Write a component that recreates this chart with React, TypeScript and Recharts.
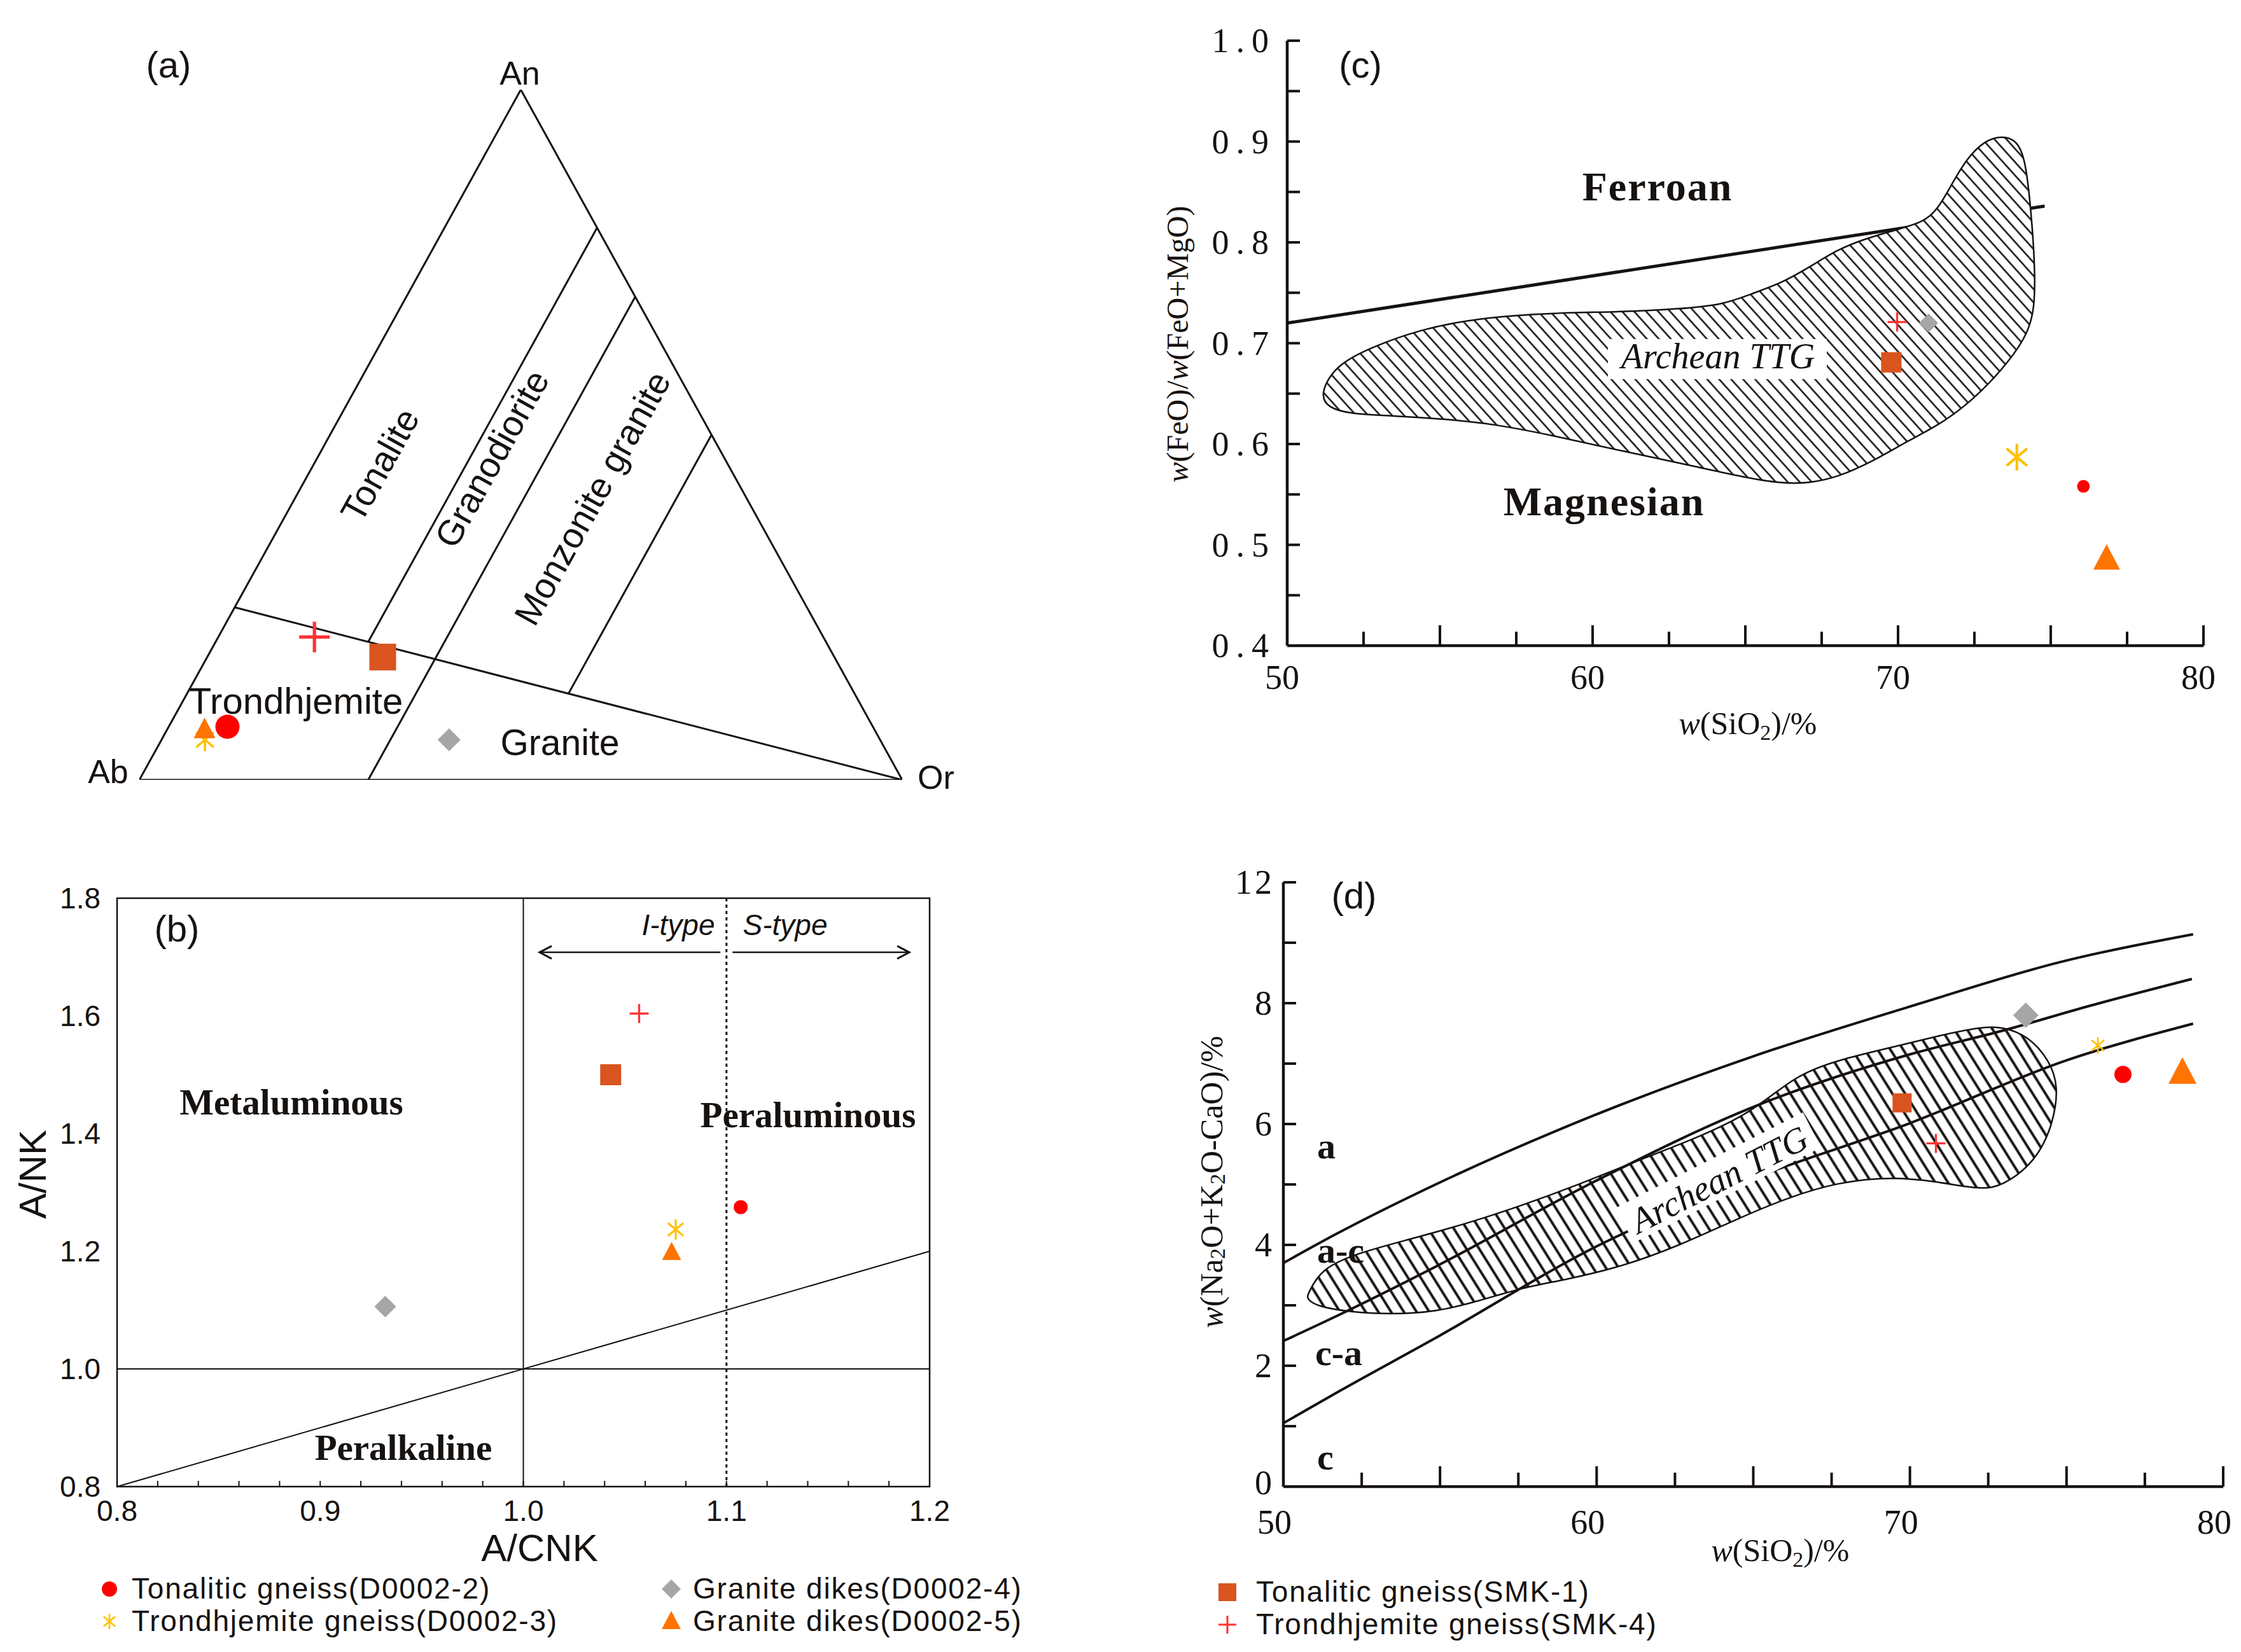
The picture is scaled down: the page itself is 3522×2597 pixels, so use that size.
import React from 'react';
import { ScatterChart, Scatter, XAxis, YAxis, ReferenceLine, ReferenceArea } from 'recharts';

const SANS = "'Liberation Sans', Arial, sans-serif";
const SERIF = "'Liberation Serif', 'Times New Roman', serif";
const INK = '#161210';

// sample symbols
const SAMPLE_STYLE: Record<string, { kind: string; color: string }> = {
  'D0002-2': { kind: 'circle', color: '#ff0000' },
  'D0002-3': { kind: 'asterisk', color: '#ffc000' },
  'D0002-4': { kind: 'diamond', color: '#a6a6a6' },
  'D0002-5': { kind: 'triangle', color: '#ff7300' },
  'SMK-1': { kind: 'square', color: '#d9541e' },
  'SMK-4': { kind: 'plus', color: '#ff3333' },
};

const legendB = [
  { id: 'D0002-2', label: 'Tonalitic gneiss(D0002-2)' },
  { id: 'D0002-3', label: 'Trondhjemite gneiss(D0002-3)' },
  { id: 'D0002-4', label: 'Granite dikes(D0002-4)' },
  { id: 'D0002-5', label: 'Granite dikes(D0002-5)' },
];
const legendD = [
  { id: 'SMK-1', label: 'Tonalitic gneiss(SMK-1)' },
  { id: 'SMK-4', label: 'Trondhjemite gneiss(SMK-4)' },
];

// (a) An-Ab-Or, %
const anAbOr = [
  { id: 'SMK-4', an: 20.7, ab: 66.7, or: 12.6 },
  { id: 'SMK-1', an: 17.8, ab: 59.2, or: 23.0 },
  { id: 'D0002-3', an: 5.8, ab: 88.5, or: 5.7 },
  { id: 'D0002-5', an: 7.3, ab: 87.8, or: 4.9 },
  { id: 'D0002-2', an: 7.7, ab: 84.6, or: 7.7 },
  { id: 'D0002-4', an: 5.8, ab: 56.5, or: 37.7 },
];
const triangleEdges = [
  [[0, 100, 0], [0, 0, 100]],
  [[0, 0, 100], [100, 0, 0]],
  [[100, 0, 0], [0, 100, 0]],
];
const fieldLines = [
  [[25, 75, 0], [0, 0, 100]],
  [[80, 0, 20], [20, 60, 20]],
  [[70, 0, 30], [0, 70, 30]],
  [[50, 0, 50], [12.5, 37.5, 50]],
];

// (b) A/CNK vs A/NK
const acnkAnk = [
  { id: 'D0002-4', acnk: 0.932, ank: 1.106 },
  { id: 'D0002-5', acnk: 1.073, ank: 1.198 },
  { id: 'D0002-3', acnk: 1.075, ank: 1.237 },
  { id: 'D0002-2', acnk: 1.107, ank: 1.275 },
  { id: 'SMK-1', acnk: 1.043, ank: 1.5 },
  { id: 'SMK-4', acnk: 1.057, ank: 1.604 },
];
const bXLabels = [0.8, 0.9, 1.0, 1.1, 1.2];
const bYLabels = [0.8, 1.0, 1.2, 1.4, 1.6, 1.8];

// (c) SiO2 vs FeO/(FeO+MgO)
const sio2Fe = [
  { id: 'SMK-4', sio2: 69.97, fe: 0.721 },
  { id: 'D0002-4', sio2: 71.0, fe: 0.72 },
  { id: 'SMK-1', sio2: 69.78, fe: 0.681 },
  { id: 'D0002-3', sio2: 73.89, fe: 0.587 },
  { id: 'D0002-2', sio2: 76.07, fe: 0.558 },
  { id: 'D0002-5', sio2: 76.83, fe: 0.486 },
];
const ferroanLine = [[50, 0.72], [74.8, 0.836]];
const ttgFe = [
  [51.06, 0.649], [51.57, 0.678], [52.75, 0.696], [54.39, 0.714], [56.27, 0.725], [58.62, 0.73],
  [60.97, 0.731], [62.85, 0.734], [64.26, 0.738], [65.2, 0.749], [66.14, 0.759], [67.08, 0.775],
  [68.02, 0.793], [68.96, 0.804], [69.9, 0.812], [70.84, 0.82], [71.31, 0.833], [71.78, 0.859],
  [72.25, 0.883], [72.83, 0.901], [73.42, 0.906], [73.89, 0.901], [74.17, 0.883], [74.36, 0.83],
  [74.48, 0.778], [74.48, 0.735], [74.24, 0.709], [73.66, 0.683], [72.72, 0.651], [71.54, 0.622],
  [70.37, 0.604], [69.19, 0.583], [68.02, 0.567], [67.08, 0.561], [66.14, 0.561], [64.96, 0.567],
  [63.32, 0.578], [60.97, 0.593], [58.62, 0.609], [56.74, 0.62], [55.1, 0.625], [53.45, 0.628],
  [52.04, 0.63], [51.34, 0.636],
];
const cXLabels = [50, 60, 70, 80];

// (d) SiO2 vs Na2O+K2O-CaO
const sio2Mali = [
  { id: 'D0002-4', sio2: 73.7, mali: 7.8 },
  { id: 'D0002-3', sio2: 76.0, mali: 7.3 },
  { id: 'D0002-2', sio2: 76.8, mali: 6.82 },
  { id: 'D0002-5', sio2: 78.7, mali: 6.85 },
  { id: 'SMK-1', sio2: 69.75, mali: 6.35 },
  { id: 'SMK-4', sio2: 70.83, mali: 5.68 },
];
const maliUpper = [[50, 3.7], [51.65, 4.17], [54.86, 5.0], [59.9, 6.14], [64.94, 7.11], [69.98, 7.94], [74.8, 8.68], [79.04, 9.14]];
const maliMiddle = [[50, 2.41], [51.65, 2.81], [54.86, 3.64], [59.9, 5.04], [64.94, 6.27], [69.98, 7.15], [73.0, 7.55], [75.7, 7.95], [79.0, 8.4]];
const maliLower = [[50, 1.05], [51.65, 1.54], [54.86, 2.46], [59.9, 3.95], [64.94, 5.09], [69.98, 6.01], [75.03, 7.06], [79.04, 7.66]];
const ttgMali = [
  [50.8, 3.2], [51.19, 3.6], [52.34, 3.86], [53.94, 4.08], [55.78, 4.34], [57.61, 4.65], [59.44, 5.0],
  [61.28, 5.39], [63.11, 5.75], [64.94, 6.18], [66.32, 6.8], [67.69, 7.06], [69.53, 7.28], [70.9, 7.46],
  [72.28, 7.61], [72.96, 7.61], [73.77, 7.46], [74.45, 7.06], [74.75, 6.62], [74.57, 6.01], [74.11, 5.48],
  [73.42, 5.13], [72.62, 4.91], [71.82, 4.96], [70.9, 5.04], [69.53, 5.13], [67.69, 5.04], [66.09, 4.78],
  [64.48, 4.43], [62.65, 3.99], [60.82, 3.64], [58.98, 3.42], [57.61, 3.29], [56.23, 3.07], [54.86, 2.89],
  [53.48, 2.85], [52.11, 2.89], [51.08, 2.98], [50.73, 3.11],
];
const dYLabels = [0, 2, 4, 6, 8, 10];
const dYLabelText = ['0', '2', '4', '6', '8', '12'];

// marker sizes per panel
const SIZE_A: Record<string, number> = { circle: 38, square: 42, plus: 48, triangle: 34, asterisk: 36, diamond: 36 };
const SIZE_B: Record<string, number> = { circle: 22, square: 33, plus: 30, triangle: 30, asterisk: 32, diamond: 34 };
const SIZE_C: Record<string, number> = { circle: 20, square: 32, plus: 30, triangle: 42, asterisk: 42, diamond: 30 };
const SIZE_D: Record<string, number> = { circle: 27, square: 30, plus: 30, triangle: 44, asterisk: 26, diamond: 40 };

const range = (a: number, b: number, s: number) =>
  Array.from({ length: Math.round((b - a) / s) + 1 }, (_, i) => Number((a + i * s).toFixed(4)));
const has = (arr: number[], v: number) => arr.findIndex((a) => Math.abs(a - v) < 1e-6);
const xy = (pts: number[][]) => pts.map(([x, y]) => ({ x, y }));
const tern = ([an, , or]: number[]) => ({ x: (or + an / 2) / 100, y: an / 100 });

function Marker({ kind, color, cx, cy, s }: any) {
  const h = s / 2;
  const sw = Math.max(3, s * 0.11);
  switch (kind) {
    case 'circle':
      return <circle cx={cx} cy={cy} r={h} fill={color} />;
    case 'square':
      return <rect x={cx - h} y={cy - h} width={s} height={s} fill={color} />;
    case 'diamond':
      return <polygon points={`${cx},${cy - h} ${cx + h},${cy} ${cx},${cy + h} ${cx - h},${cy}`} fill={color} />;
    case 'triangle':
      return <polygon points={`${cx},${cy - s * 0.55} ${cx + h},${cy + s * 0.4} ${cx - h},${cy + s * 0.4}`} fill={color} />;
    case 'plus':
      return (
        <g stroke={color} strokeWidth={sw}>
          <line x1={cx - h} x2={cx + h} y1={cy} y2={cy} />
          <line x1={cx} x2={cx} y1={cy - h} y2={cy + h} />
        </g>
      );
    default: {
      const c = h * Math.cos(0.7);
      const d = h * Math.sin(0.7);
      return (
        <g stroke={color} strokeWidth={sw * 0.9}>
          <line x1={cx} x2={cx} y1={cy - h} y2={cy + h} />
          <line x1={cx - c} x2={cx + c} y1={cy - d} y2={cy + d} />
          <line x1={cx - c} x2={cx + c} y1={cy + d} y2={cy - d} />
        </g>
      );
    }
  }
}

function samples(prefix: string, pts: { id: string; x: number; y: number }[], sizes: Record<string, number>) {
  return pts.map((p) => {
    const st = SAMPLE_STYLE[p.id];
    return (
      <Scatter
        key={`${prefix}-${p.id}`}
        data={[p]}
        isAnimationActive={false}
        shape={(q: any) => <Marker kind={st.kind} color={st.color} cx={q.cx} cy={q.cy} s={sizes[st.kind]} />}
      />
    );
  });
}

function outline(key: string, pts: { x: number; y: number }[], width: number, opt: { fill?: string; curve?: any } = {}) {
  return (
    <Scatter
      key={key}
      data={pts}
      isAnimationActive={false}
      shape={() => <g />}
      line={{ stroke: INK, strokeWidth: width, fill: opt.fill ?? 'none' }}
      lineType="joint"
      lineJointType={opt.curve ?? 'linear'}
    />
  );
}

function axisTick(o: {
  side: 'bottom' | 'left';
  len: (v: number) => number;
  label: (v: number) => string | null;
  offset: number;
  dx?: number;
  dy?: (v: number) => number;
  font: string;
  size: number;
  spacing?: number;
  stroke: number;
}) {
  return (p: any) => {
    const v = Number(p.payload.value);
    const L = o.len(v);
    const lab = o.label(v);
    if (o.side === 'bottom') {
      return (
        <g>
          {L > 0 && <line x1={p.x} x2={p.x} y1={p.y} y2={p.y - L} stroke={INK} strokeWidth={o.stroke} />}
          {lab !== null && (
            <text x={p.x + (o.dx ?? 0)} y={p.y + o.offset} textAnchor="middle" fontFamily={o.font} fontSize={o.size} letterSpacing={o.spacing ?? 0} fill={INK}>
              {lab}
            </text>
          )}
        </g>
      );
    }
    return (
      <g>
        {L > 0 && <line x1={p.x} x2={p.x + L} y1={p.y} y2={p.y} stroke={INK} strokeWidth={o.stroke} />}
        {lab !== null && (
          <text x={p.x - o.offset} y={p.y + (o.dy ? o.dy(v) : 0)} textAnchor="end" dominantBaseline="central" fontFamily={o.font} fontSize={o.size} letterSpacing={o.spacing ?? 0} fill={INK}>
            {lab}
          </text>
        )}
      </g>
    );
  };
}

function PanelA() {
  const pts = anAbOr.map((d) => ({ id: d.id, ...tern([d.an, d.ab, d.or]) }));
  return (
    <ScatterChart width={1700} height={1300} margin={{ top: 141, right: 282, bottom: 74, left: 219 }}>
      <XAxis type="number" dataKey="x" domain={[0, 1]} allowDataOverflow hide />
      <YAxis type="number" dataKey="y" domain={[0, 1]} allowDataOverflow hide />
      {[...triangleEdges, ...fieldLines].map((seg, i) => outline(`a-line-${i}`, seg.map(tern), 3))}
      {samples('a', pts, SIZE_A)}
    </ScatterChart>
  );
}

function PanelB() {
  const pts = acnkAnk.map((d) => ({ id: d.id, x: d.acnk, y: d.ank }));
  const arrowY = 1.708;
  return (
    <ScatterChart width={1760} height={1150} margin={{ top: 112, right: 299, bottom: 13, left: 4 }}>
      <XAxis
        type="number" dataKey="x" domain={[0.8, 1.2]} allowDataOverflow height={100}
        ticks={range(0.8, 1.2, 0.02)} interval={0} axisLine={false} tickLine={false} tickSize={0} tickMargin={0}
        tick={axisTick({ side: 'bottom', len: () => 9, label: (v) => (has(bXLabels, v) >= 0 ? v.toFixed(1) : null), offset: 54, font: SANS, size: 46, stroke: 2 })}
      />
      <YAxis
        type="number" dataKey="y" domain={[0.8, 1.8]} allowDataOverflow width={180}
        ticks={bYLabels} interval={0} axisLine={false} tickLine={false} tickSize={0} tickMargin={0}
        tick={axisTick({ side: 'left', len: () => 0, label: (v) => v.toFixed(1), offset: 26, font: SANS, size: 46, stroke: 2 })}
      />
      <ReferenceArea x1={0.8} x2={1.2} y1={0.8} y2={1.8} fill="none" stroke={INK} strokeWidth={2.5} ifOverflow="visible" />
      <ReferenceLine x={1.0} stroke={INK} strokeWidth={2} ifOverflow="visible" />
      <ReferenceLine y={1.0} stroke={INK} strokeWidth={2} ifOverflow="visible" />
      <ReferenceLine segment={[{ x: 0.8, y: 0.8 }, { x: 1.2, y: 1.2 }]} stroke={INK} strokeWidth={2} ifOverflow="visible" />
      <ReferenceLine x={1.1} stroke={INK} strokeWidth={3} strokeDasharray="5 5" ifOverflow="visible" />
      <ReferenceLine segment={[{ x: 1.008, y: arrowY }, { x: 1.097, y: arrowY }]} stroke={INK} strokeWidth={2.5} markerStart="url(#arrowHead)" ifOverflow="visible" />
      <ReferenceLine segment={[{ x: 1.103, y: arrowY }, { x: 1.19, y: arrowY }]} stroke={INK} strokeWidth={2.5} markerEnd="url(#arrowHead)" ifOverflow="visible" />
      {samples('b', pts, SIZE_B)}
    </ScatterChart>
  );
}

function PanelC() {
  const pts = sio2Fe.map((d) => ({ id: d.id, x: d.sio2, y: d.fe }));
  return (
    <ScatterChart width={1762} height={1300} margin={{ top: 64, right: 59, bottom: 85, left: 63 }}>
      <XAxis
        type="number" dataKey="x" domain={[50, 80]} allowDataOverflow height={200}
        ticks={range(50, 80, 2.5)} interval={0} axisLine={{ stroke: INK, strokeWidth: 4.5 }} tickLine={false} tickSize={0} tickMargin={0}
        tick={axisTick({ side: 'bottom', len: (v) => (Math.abs(v % 5) < 1e-6 ? 32 : 22), label: (v) => (has(cXLabels, v) >= 0 ? String(v) : null), offset: 68, dx: -8, font: SERIF, size: 54, stroke: 4 })}
      />
      <YAxis
        type="number" dataKey="y" domain={[0.4, 1.0]} allowDataOverflow width={200}
        ticks={range(0.4, 1.0, 0.05)} interval={0} axisLine={{ stroke: INK, strokeWidth: 4.5 }} tickLine={false} tickSize={0} tickMargin={0}
        tick={axisTick({ side: 'left', len: () => 20, label: (v) => (has(range(0.4, 1.0, 0.1), v) >= 0 ? v.toFixed(1) : null), offset: 18, font: SERIF, size: 54, spacing: 11, stroke: 4 })}
      />
      {outline('c-ferroan', xy(ferroanLine), 5)}
      {outline('c-ttg', xy(ttgFe), 2.5, { fill: 'url(#hatchC)', curve: 'basisClosed' })}
      {samples('c', pts, SIZE_C)}
    </ScatterChart>
  );
}

function PanelD() {
  const pts = sio2Mali.map((d) => ({ id: d.id, x: d.sio2, y: d.mali }));
  return (
    <ScatterChart width={1762} height={1150} margin={{ top: 87, right: 28, bottom: 13, left: 57 }}>
      <XAxis
        type="number" dataKey="x" domain={[50, 80]} allowDataOverflow height={100}
        ticks={range(50, 80, 2.5)} interval={0} axisLine={{ stroke: INK, strokeWidth: 4.5 }} tickLine={false} tickSize={0} tickMargin={0}
        tick={axisTick({ side: 'bottom', len: (v) => (Math.abs(v % 5) < 1e-6 ? 32 : 22), label: (v) => (has(cXLabels, v) >= 0 ? String(v) : null), offset: 74, dx: -14, font: SERIF, size: 54, stroke: 4 })}
      />
      <YAxis
        type="number" dataKey="y" domain={[0, 10]} allowDataOverflow width={200}
        ticks={range(0, 10, 1)} interval={0} axisLine={{ stroke: INK, strokeWidth: 4.5 }} tickLine={false} tickSize={0} tickMargin={0}
        tick={axisTick({ side: 'left', len: () => 20, label: (v) => { const i = has(dYLabels, v); return i >= 0 ? dYLabelText[i] : null; }, offset: 14, dy: (v) => (v === 0 ? -6 : 0), font: SERIF, size: 54, spacing: 4, stroke: 4 })}
      />
      {outline('d-ttg', xy(ttgMali), 2.5, { fill: 'url(#hatchD)', curve: 'basisClosed' })}
      {outline('d-upper', xy(maliUpper), 4, { curve: 'monotoneX' })}
      {outline('d-middle', xy(maliMiddle), 4, { curve: 'monotoneX' })}
      {outline('d-lower', xy(maliLower), 4, { curve: 'monotoneX' })}
      {samples('d', pts, SIZE_D)}
    </ScatterChart>
  );
}

function Txt({ x, y, size, family = SANS, weight, italic, anchor = 'middle', rotate, spacing, children }: any) {
  const t = (
    <text
      x={rotate !== undefined ? 0 : x}
      y={rotate !== undefined ? 0 : y}
      fontSize={size}
      fontFamily={family}
      fontWeight={weight}
      fontStyle={italic ? 'italic' : undefined}
      textAnchor={anchor}
      dominantBaseline={rotate !== undefined ? 'central' : undefined}
      letterSpacing={spacing}
      fill={INK}
    >
      {children}
    </text>
  );
  if (rotate === undefined) return t;
  return <g transform={`translate(${x},${y}) rotate(${rotate})`}>{t}</g>;
}

function Legend({ items, x, textX, rows, size }: any) {
  return (
    <g>
      {items.map((it: any, i: number) => {
        const st = SAMPLE_STYLE[it.id];
        return (
          <g key={it.id}>
            <Marker kind={st.kind} color={st.color} cx={x} cy={rows[i] - 15} s={size} />
            <text x={textX} y={rows[i]} fontFamily={SANS} fontSize={46} letterSpacing={1.8} fill={INK}>{it.label}</text>
          </g>
        );
      })}
    </g>
  );
}

function Overlay() {
  const sub = (s: string) => <tspan dy={9} fontSize={34}>{s}</tspan>;
  const up = (s: string) => <tspan dy={-9}>{s}</tspan>;
  return (
    <svg width={3522} height={2597} style={{ position: 'absolute', left: 0, top: 0, pointerEvents: 'none' }}>
      <defs>
        <pattern id="hatchC" patternUnits="userSpaceOnUse" width={14} height={14} patternTransform="rotate(-42)">
          <rect width={14} height={14} fill="#fff" />
          <line x1={7} x2={7} y1={0} y2={14} stroke={INK} strokeWidth={2.6} />
        </pattern>
        <pattern id="hatchD" patternUnits="userSpaceOnUse" width={17} height={17} patternTransform="rotate(-32)">
          <rect width={17} height={17} fill="#fff" />
          <line x1={8.5} x2={8.5} y1={0} y2={17} stroke={INK} strokeWidth={4} />
        </pattern>
        <marker id="arrowHead" markerUnits="userSpaceOnUse" markerWidth={30} markerHeight={30} refX={22} refY={12} orient="auto-start-reverse">
          <path d="M3,2 L22,12 L3,22" fill="none" stroke={INK} strokeWidth={3} />
        </marker>
      </defs>

      {/* (a) */}
      <Txt x={265} y={122} size={58}>(a)</Txt>
      <Txt x={817} y={133} size={52}>An</Txt>
      <Txt x={170} y={1231} size={52}>Ab</Txt>
      <Txt x={1471} y={1240} size={52}>Or</Txt>
      <Txt x={465} y={1122} size={58}>Trondhjemite</Txt>
      <Txt x={880} y={1187} size={57}>Granite</Txt>
      <Txt x={597} y={731} size={56} rotate={-61}>Tonalite</Txt>
      <Txt x={773} y={721} size={56} rotate={-61}>Granodiorite</Txt>
      <Txt x={931} y={783} size={56} rotate={-61}>Monzonite granite</Txt>

      {/* (b) */}
      <Txt x={278} y={1480} size={58}>(b)</Txt>
      <Txt x={1066} y={1470} size={46} italic>I-type</Txt>
      <Txt x={1234} y={1470} size={46} italic>S-type</Txt>
      <Txt x={458} y={1752} size={57} family={SERIF} weight="bold">Metaluminous</Txt>
      <Txt x={1270} y={1772} size={57} family={SERIF} weight="bold">Peraluminous</Txt>
      <Txt x={634} y={2295} size={57} family={SERIF} weight="bold">Peralkaline</Txt>
      <Txt x={51} y={1846} size={60} rotate={-90}>A/NK</Txt>
      <Txt x={848} y={2454} size={60}>A/CNK</Txt>
      <Legend items={legendB.slice(0, 2)} x={172} textX={207} rows={[2513, 2564]} size={24} />
      <Legend items={legendB.slice(2)} x={1055} textX={1089} rows={[2513, 2564]} size={30} />

      {/* (c) */}
      <Txt x={2138} y={122} size={58}>(c)</Txt>
      <Txt x={2605} y={315} size={64} family={SERIF} weight="bold" spacing={2}>Ferroan</Txt>
      <Txt x={2521} y={810} size={64} family={SERIF} weight="bold" spacing={2}>Magnesian</Txt>
      <rect x={2527} y={533} width={344} height={63} fill="#fff" />
      <Txt x={2700} y={579} size={56} family={SERIF} italic>Archean TTG</Txt>
      <Txt x={1850} y={541} size={48} family={SERIF} rotate={-90}>
        <tspan fontStyle="italic">w</tspan>(FeO)/<tspan fontStyle="italic">w</tspan>(FeO+MgO)
      </Txt>
      <Txt x={2747} y={1154} size={50} family={SERIF}>
        <tspan fontStyle="italic">w</tspan>(SiO{sub('2')}{up(')/%')}
      </Txt>

      {/* (d) */}
      <Txt x={2128} y={1428} size={58}>(d)</Txt>
      <Txt x={2070} y={1821} size={58} family={SERIF} weight="bold" anchor="start">a</Txt>
      <Txt x={2070} y={1985} size={58} family={SERIF} weight="bold" anchor="start">a-c</Txt>
      <Txt x={2067} y={2146} size={58} family={SERIF} weight="bold" anchor="start">c-a</Txt>
      <Txt x={2070} y={2310} size={58} family={SERIF} weight="bold" anchor="start">c</Txt>
      <g transform="translate(2702,1854) rotate(-27)">
        <rect x={-165} y={-34} width={330} height={62} fill="#fff" />
        <text x={0} y={0} dominantBaseline="central" textAnchor="middle" fontFamily={SERIF} fontStyle="italic" fontSize={56} fill={INK}>Archean TTG</text>
      </g>
      <Txt x={1904} y={1858} size={50} family={SERIF} rotate={-90}>
        <tspan fontStyle="italic">w</tspan>(Na{sub('2')}{up('O+K')}{sub('2')}{up('O-CaO)/%')}
      </Txt>
      <Txt x={2798} y={2454} size={50} family={SERIF}>
        <tspan fontStyle="italic">w</tspan>(SiO{sub('2')}{up(')/%')}
      </Txt>
      <Legend items={legendD} x={1929} textX={1974} rows={[2518, 2569]} size={28} />
    </svg>
  );
}

export default function App() {
  return (
    <div style={{ position: 'absolute', left: 0, top: 0, width: 3522, height: 2597, background: '#fff', overflow: 'hidden' }}>
      <div style={{ position: 'absolute', left: 0, top: 0 }}><PanelA /></div>
      <div style={{ position: 'absolute', left: 0, top: 1300 }}><PanelB /></div>
      <div style={{ position: 'absolute', left: 1760, top: 0 }}><PanelC /></div>
      <div style={{ position: 'absolute', left: 1760, top: 1300 }}><PanelD /></div>
      <Overlay />
    </div>
  );
}
